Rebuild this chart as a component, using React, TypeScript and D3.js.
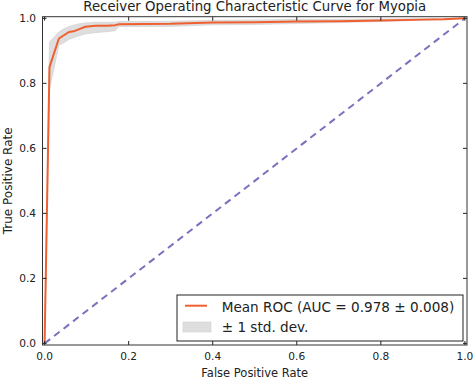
import React from "react";
import * as d3 from "d3";

const meanFpr = [0, 0.0116, 0.034, 0.046, 0.058, 0.069, 0.081, 0.097, 0.121, 0.149, 0.168, 0.177, 0.3, 0.4, 0.5, 0.6, 0.7, 0.8, 0.9, 0.95, 1.0];
const meanTpr = [0, 0.85, 0.938, 0.948, 0.958, 0.96, 0.966, 0.974, 0.977, 0.977, 0.979, 0.982, 0.983, 0.987, 0.988, 0.99, 0.991, 0.993, 0.996, 0.997, 1.0];
const tprUpper = [0, 0.927, 0.958, 0.968, 0.975, 0.979, 0.983, 0.986, 0.988, 0.988, 0.988, 0.99, 0.991, 0.994, 0.995, 0.997, 0.997, 0.998, 0.999, 0.999, 1.0];
const tprLower = [0, 0.78, 0.917, 0.925, 0.935, 0.94, 0.946, 0.952, 0.956, 0.959, 0.962, 0.975, 0.975, 0.98, 0.981, 0.984, 0.987, 0.99, 0.994, 0.996, 1.0];
const chanceX = [0, 1];
const chanceY = [0, 1];
const xTicks = [0, 0.2, 0.4, 0.6, 0.8, 1.0];
const yTicks = [0, 0.2, 0.4, 0.6, 0.8, 1.0];
const titleText = "Receiver Operating Characteristic Curve for Myopia";
const xLabel = "False Positive Rate";
const yLabel = "True Positive Rate";
const legendLabels = ["Mean ROC (AUC = 0.978 \u00b1 0.008)", "\u00b1 1 std. dev."];

const W = 474;
const H = 379;
const L = 42.5;
const R = 467;
const T = 16.7;
const B = 345;
const FONT = "DejaVu Sans";
const ROC_COLOR = "#ef5f30";
const DIAG_COLOR = "#7872be";
const BAND_COLOR = "#dedede";

export default function App() {
  const x = d3.scaleLinear().domain([-0.005, 1.005]).range([L, R]);
  const y = d3.scaleLinear().domain([-0.005, 1.005]).range([B, T]);

  const pts = meanFpr.map((f, i) => ({ f, m: meanTpr[i], u: tprUpper[i], l: tprLower[i] }));
  const line = d3.line<any>().x((d) => x(d.f)).y((d) => y(d.m));
  const area = d3
    .area<any>()
    .x((d) => x(d.f))
    .y0((d) => y(d.l))
    .y1((d) => y(d.u));
  const diag = d3.line<number>().x((d, i) => x(chanceX[i])).y((d, i) => y(chanceY[i]));

  const tickLen = 4;

  return (
    <div style={{ position: "fixed", left: 0, top: 0 }}>
      <svg width={W} height={H} style={{ display: "block", background: "#fff" }} fontFamily={FONT}>
        <defs>
          <clipPath id="plotclip">
            <rect x={L} y={T} width={R - L} height={B - T} />
          </clipPath>
        </defs>
        <g clipPath="url(#plotclip)">
          <path d={area(pts) || ""} fill={BAND_COLOR} stroke="#cfcfcf" strokeWidth={0.6} />
          <path d={diag(chanceX) || ""} fill="none" stroke={DIAG_COLOR} strokeWidth={2} strokeDasharray="7,5" />
          <path d={line(pts) || ""} fill="none" stroke={ROC_COLOR} strokeWidth={2} strokeLinejoin="round" />
        </g>
        {/* ticks */}
        {xTicks.map((t) => (
          <g key={"xt" + t}>
            <line x1={x(t)} x2={x(t)} y1={B} y2={B - tickLen} stroke="#222" strokeWidth={1} />
            <line x1={x(t)} x2={x(t)} y1={T} y2={T + tickLen} stroke="#222" strokeWidth={1} />
            <text x={x(t)} y={360} textAnchor="middle" fontSize={10.6} fill="#222">
              {t.toFixed(1)}
            </text>
          </g>
        ))}
        {yTicks.map((t) => (
          <g key={"yt" + t}>
            <line x1={L} x2={L + tickLen} y1={y(t)} y2={y(t)} stroke="#222" strokeWidth={1} />
            <line x1={R} x2={R - tickLen} y1={y(t)} y2={y(t)} stroke="#222" strokeWidth={1} />
            <text x={36} y={y(t)} dy="0.36em" textAnchor="end" fontSize={10.6} fill="#222">
              {t.toFixed(1)}
            </text>
          </g>
        ))}
        <rect x={L} y={T} width={R - L} height={B - T} fill="none" stroke="#333" strokeWidth={1} />
        <text x={(L + R) / 2} y={11} textAnchor="middle" fontSize={13.3} fill="#222">
          {titleText}
        </text>
        <text x={(L + R) / 2} y={377} textAnchor="middle" fontSize={11.5} fill="#222">
          {xLabel}
        </text>
        <text transform={`translate(11.5,${(T + B) / 2}) rotate(-90)`} textAnchor="middle" fontSize={12} fill="#222">
          {yLabel}
        </text>
        {/* legend */}
        <g>
          <rect x={177} y={295} width={286} height={46} fill="#fff" stroke="#222" strokeWidth={1} />
          <line x1={185} x2={207} y1={305.7} y2={305.7} stroke={ROC_COLOR} strokeWidth={2} />
          <text x={221.7} y={311.5} fontSize={13.6} fill="#222">
            {legendLabels[0]}
          </text>
          <rect x={183} y={322} width={28} height={10} fill={BAND_COLOR} stroke="#d0d0d0" strokeWidth={0.6} />
          <text x={221.7} y={332} fontSize={13.6} fill="#222">
            {legendLabels[1]}
          </text>
        </g>
      </svg>
    </div>
  );
}
